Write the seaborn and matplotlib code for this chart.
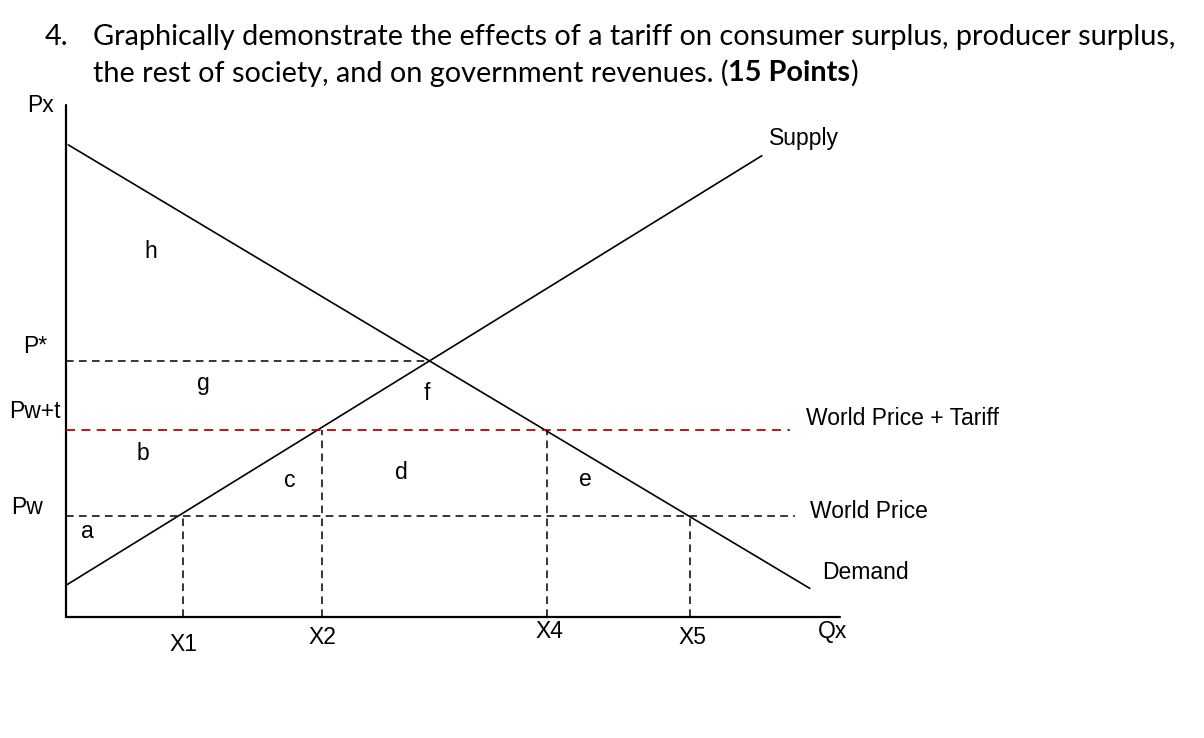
import matplotlib
matplotlib.use("Agg")
import matplotlib.pyplot as plt
import seaborn as sns

# curves (quantity, price)
supply_q = [0.0, 89.9]
supply_p = [4.1, 59.6]
demand_q = [0.3, 96.1]
demand_p = [61.0, 3.7]

# price levels
p_star = 33.1
p_tariff = 24.2
p_world = 13.0

# quantities
q_star = 47.0
x1 = 15.1
x2 = 33.1
x4 = 62.1
x5 = 80.6

price_labels = ["Px", "P*", "Pw+t", "Pw"]
qty_labels = ["X1", "X2", "X4", "X5", "Qx"]
area_labels = ["h", "g", "f", "b", "c", "d", "e", "a"]

sns.set_style("white")
plt.rcParams['font.family'] = ['Liberation Sans', 'DejaVu Sans']
plt.rcParams['text.color'] = 'black'

fig = plt.figure(figsize=(12.04, 7.38), dpi=100)
ax = fig.add_axes([0, 0, 1, 1])
ax.set_xlim(-8.53, 147.03)
ax.set_ylim(-15.63, 79.72)
ax.axis("off")

# axes of the diagram
ax.plot([0, 0], [0, 66.1], color="black", lw=1.6)
ax.plot([0, 100], [0, 0], color="black", lw=1.6)

# supply and demand
sns.lineplot(x=supply_q, y=supply_p, color="black", lw=1.2, ax=ax)
sns.lineplot(x=demand_q, y=demand_p, color="black", lw=1.2, ax=ax)

dash = (0, (5, 3.5))
ax.hlines(p_star, 0, q_star, color="black", lw=1.1, linestyle=dash)
ax.hlines(p_tariff, 0, 93.5, color="#C00000", lw=1.3, linestyle=dash)
ax.hlines(p_world, 0, 94.2, color="black", lw=1.1, linestyle=dash)
ax.vlines([x1, x5], 0, p_world, color="black", lw=1.1, linestyle=dash)
ax.vlines([x2, x4], 0, p_tariff, color="black", lw=1.1, linestyle=dash)

fs = 16.5
price_pos = [(-3.36, 66.1), (-4.0, 34.9), (-4.0, 26.5), (-5.04, 14.2)]
for lab, (x, y) in zip(price_labels, price_pos):
    ax.text(x, y, lab, fontsize=fs, ha="center", va="center")

qty_pos = [(15.2, -3.6), (33.1, -2.6), (62.5, -1.9), (80.9, -2.6), (99.1, -1.9)]
for lab, (x, y) in zip(qty_labels, qty_pos):
    ax.text(x, y, lab, fontsize=fs, ha="center", va="center")

area_pos = [(10.9, 47.2), (17.8, 30.2), (46.6, 28.9), (9.9, 21.1),
            (28.9, 17.6), (43.3, 18.7), (67.1, 17.8), (2.7, 11.1)]
for lab, (x, y) in zip(area_labels, area_pos):
    ax.text(x, y, lab, fontsize=fs, ha="center", va="center")

ax.text(95.3, 61.8, "Supply", fontsize=fs, ha="center", va="center")
ax.text(95.6, 25.7, "World Price + Tariff", fontsize=fs, ha="left", va="center")
ax.text(96.1, 13.6, "World Price", fontsize=fs, ha="left", va="center")
ax.text(97.7, 5.7, "Demand", fontsize=fs, ha="left", va="center")

# question text on top
tfont = ['Lato', 'DejaVu Sans']
tfs = 20.8
fig.text(45 / 1204, 1 - 37 / 738, "4.", fontsize=tfs, family=tfont, va="center")
fig.text(93 / 1204, 1 - 37 / 738,
         "Graphically demonstrate the effects of a tariff on consumer surplus, producer surplus,",
         fontsize=tfs, family=tfont, va="center")

renderer = fig.canvas.get_renderer()
x = 93 / 1204
for piece, weight in [("the rest of society, and on government revenues. (", "normal"),
                      ("15 Points", "bold"), (")", "normal")]:
    t = fig.text(x, 1 - 73 / 738, piece, fontsize=tfs, family=tfont,
                 weight=weight, va="center")
    bb = t.get_window_extent(renderer)
    x = bb.x1 / fig.bbox.width

fig.savefig("out.png", dpi=100)
